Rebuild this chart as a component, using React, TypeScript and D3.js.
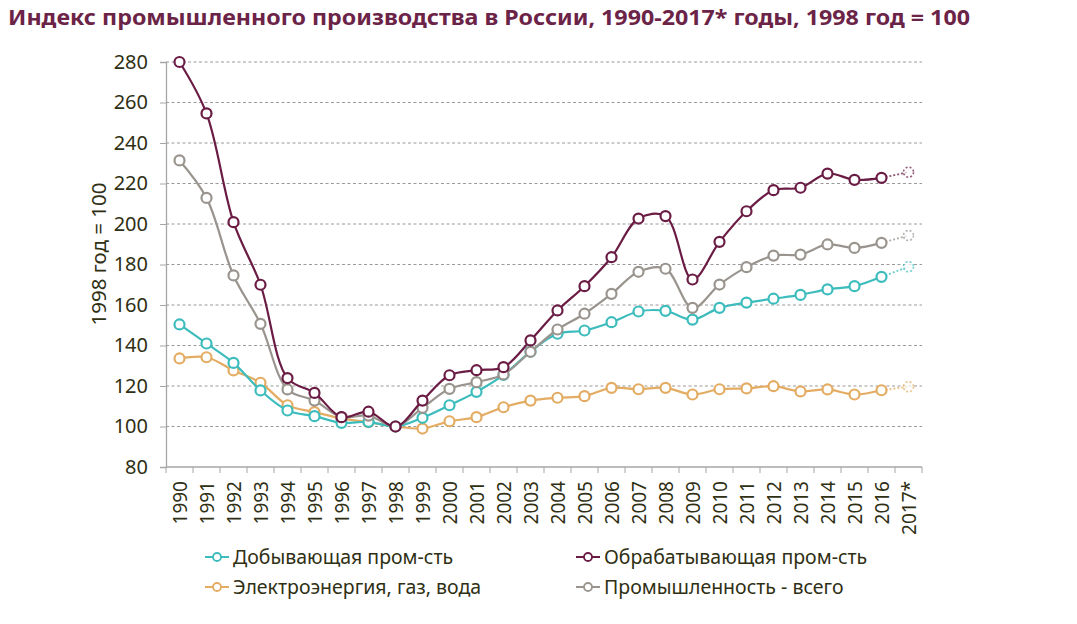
import { useEffect, useRef } from "react";
import * as d3 from "d3";

const years = ["1990", "1991", "1992", "1993", "1994", "1995", "1996", "1997", "1998", "1999", "2000", "2001", "2002", "2003", "2004", "2005", "2006", "2007", "2008", "2009", "2010", "2011", "2012", "2013", "2014", "2015", "2016", "2017*"];

const mining = [150.4, 141, 131.4, 117.8, 107.9, 105.1, 101.8, 102.3, 100, 104.3, 110.5, 117.1, 125.5, 137, 145.8, 147.4, 151.5, 156.8, 157.1, 152.8, 158.6, 161.2, 163.1, 165, 167.7, 169.3, 173.9, 178.9];
const manufacturing = [280, 254.6, 200.9, 170, 123.9, 116.6, 104.6, 107.3, 100, 112.8, 125.3, 127.8, 129.3, 142.5, 157.3, 169.3, 183.6, 202.7, 203.9, 172.6, 191.2, 206.3, 216.7, 217.9, 224.9, 221.8, 222.8, 225.6];
const utilities = [133.6, 134.2, 127.7, 121.6, 110.5, 107.1, 104, 102.1, 100, 99, 102.6, 104.6, 109.5, 112.8, 114.2, 115, 119.1, 118.4, 119.1, 115.8, 118.4, 118.8, 119.9, 117.3, 118.3, 115.8, 117.9, 119.6];
const total = [231.4, 212.9, 174.6, 150.7, 118.3, 112.8, 104.6, 105.4, 100, 109.2, 118.6, 121.9, 125.7, 136.9, 147.9, 155.7, 165.5, 176.4, 177.9, 158.6, 170.1, 178.7, 184.4, 184.9, 189.9, 188.2, 190.7, 194.3];

const yTicks = [80, 100, 120, 140, 160, 180, 200, 220, 240, 260, 280];

const series = [
  { name: "Электроэнергия, газ, вода", values: utilities, color: "#e3ac62" },
  { name: "Добывающая пром-сть", values: mining, color: "#3cbcbc" },
  { name: "Промышленность - всего", values: total, color: "#9a948e" },
  { name: "Обрабатывающая пром-сть", values: manufacturing, color: "#6a1c44" },
];

const legendOrder = [
  { name: "Добывающая пром-сть", color: "#3cbcbc", col: 0, row: 0 },
  { name: "Обрабатывающая пром-сть", color: "#6a1c44", col: 1, row: 0 },
  { name: "Электроэнергия, газ, вода", color: "#e3ac62", col: 0, row: 1 },
  { name: "Промышленность - всего", color: "#9a948e", col: 1, row: 1 },
];

const W = 1077;
const H = 624;
const font = "'Noto Sans', 'DejaVu Sans', sans-serif";
const textColor = "#2f2f14";

export default function App() {
  const svgRef = useRef<SVGSVGElement | null>(null);

  useEffect(() => {
    const svg = d3.select(svgRef.current);
    svg.selectAll("*").remove();

    const left = 166, right = 922, top = 62, bottom = 467;

    const x = d3.scalePoint<string>().domain(years).range([left, right]).padding(0.5);
    const y = d3.scaleLinear().domain([80, 280]).range([bottom, top]);
    const step = x.step();

    // title
    svg.append("text")
      .attr("x", 8).attr("y", 25)
      .attr("font-family", font).attr("font-weight", "bold").attr("font-size", 22)
      .attr("fill", "#6b2347")
      .attr("textLength", 962).attr("lengthAdjust", "spacingAndGlyphs")
      .text("Индекс промышленного производства в России, 1990-2017* годы, 1998 год = 100");

    // gridlines
    svg.append("g").selectAll("line")
      .data(yTicks.filter(t => t > 80))
      .enter().append("line")
      .attr("x1", left).attr("x2", right)
      .attr("y1", d => y(d)).attr("y2", d => y(d))
      .attr("stroke", "#9a9a9a").attr("stroke-width", 1)
      .attr("stroke-dasharray", "3,2.5");

    // y axis
    const yAxis = svg.append("g").attr("transform", `translate(${left},0)`)
      .call(d3.axisLeft(y).tickValues(yTicks).tickSize(6).tickPadding(12).tickFormat(d3.format("d")));
    yAxis.select(".domain").attr("stroke", "#a6a6a6").attr("stroke-width", 1.3);
    yAxis.selectAll(".tick line").attr("stroke", "#a6a6a6");
    yAxis.selectAll("text").attr("font-family", font).attr("font-size", 20).attr("fill", textColor);

    // x axis
    const xg = svg.append("g").attr("transform", `translate(0,${bottom})`);
    xg.append("line").attr("x1", left).attr("x2", right).attr("stroke", "#a6a6a6").attr("stroke-width", 1.3);
    xg.selectAll(".xt")
      .data(d3.range(years.length + 1))
      .enter().append("line")
      .attr("x1", i => left + i * step).attr("x2", i => left + i * step)
      .attr("y1", 0).attr("y2", 6)
      .attr("stroke", "#a6a6a6");
    xg.selectAll(".xl")
      .data(years)
      .enter().append("text")
      .attr("transform", d => `translate(${(x(d) as number) + 7},${14}) rotate(-90)`)
      .attr("text-anchor", "end")
      .attr("font-family", font).attr("font-size", 19).attr("fill", textColor)
      .text(d => d);

    // y axis title
    svg.append("text")
      .attr("transform", `translate(106,254) rotate(-90)`)
      .attr("text-anchor", "middle")
      .attr("font-family", font).attr("font-size", 20.5).attr("fill", textColor)
      .text("1998 год = 100");

    const lineGen = d3.line<number>()
      .x((_, i) => x(years[i]) as number)
      .y(d => y(d))
      .curve(d3.curveCatmullRom.alpha(0.5));

    const last = years.length - 1;
    series.forEach(s => {
      const g = svg.append("g");
      const actual = s.values.slice(0, last);
      g.append("path")
        .datum(actual)
        .attr("d", lineGen)
        .attr("fill", "none").attr("stroke", s.color).attr("stroke-width", 2.2);
      // forecast segment
      g.append("line")
        .attr("x1", x(years[last - 1]) as number).attr("y1", y(s.values[last - 1]))
        .attr("x2", x(years[last]) as number).attr("y2", y(s.values[last]))
        .attr("stroke", s.color).attr("stroke-width", 1.8)
        .attr("stroke-dasharray", "2,2").attr("opacity", 0.75);
      g.append("circle")
        .attr("cx", x(years[last]) as number).attr("cy", y(s.values[last]))
        .attr("r", 5).attr("fill", "#fff")
        .attr("stroke", s.color).attr("stroke-width", 1.6)
        .attr("stroke-dasharray", "2,2").attr("opacity", 0.7);
      g.selectAll(".pt")
        .data(actual)
        .enter().append("circle")
        .attr("cx", (_, i) => x(years[i]) as number)
        .attr("cy", d => y(d))
        .attr("r", 5).attr("fill", "#fff")
        .attr("stroke", s.color).attr("stroke-width", 2.2);
    });

    // legend
    const lg = svg.append("g");
    legendOrder.forEach(l => {
      const lx = l.col === 0 ? 205 : 576;
      const ly = l.row === 0 ? 557 : 587;
      lg.append("line").attr("x1", lx).attr("x2", lx + 24).attr("y1", ly).attr("y2", ly)
        .attr("stroke", l.color).attr("stroke-width", 2);
      lg.append("circle").attr("cx", lx + 12).attr("cy", ly).attr("r", 4)
        .attr("fill", "#fff").attr("stroke", l.color).attr("stroke-width", 1.8);
      lg.append("text").attr("x", lx + 28).attr("y", ly + 7)
        .attr("font-family", font).attr("font-size", 19.5).attr("fill", textColor)
        .text(l.name);
    });
  }, []);

  return (
    <svg
      ref={svgRef}
      width={W}
      height={H}
      style={{ position: "absolute", left: 0, top: 0, background: "#fff" }}
    />
  );
}
